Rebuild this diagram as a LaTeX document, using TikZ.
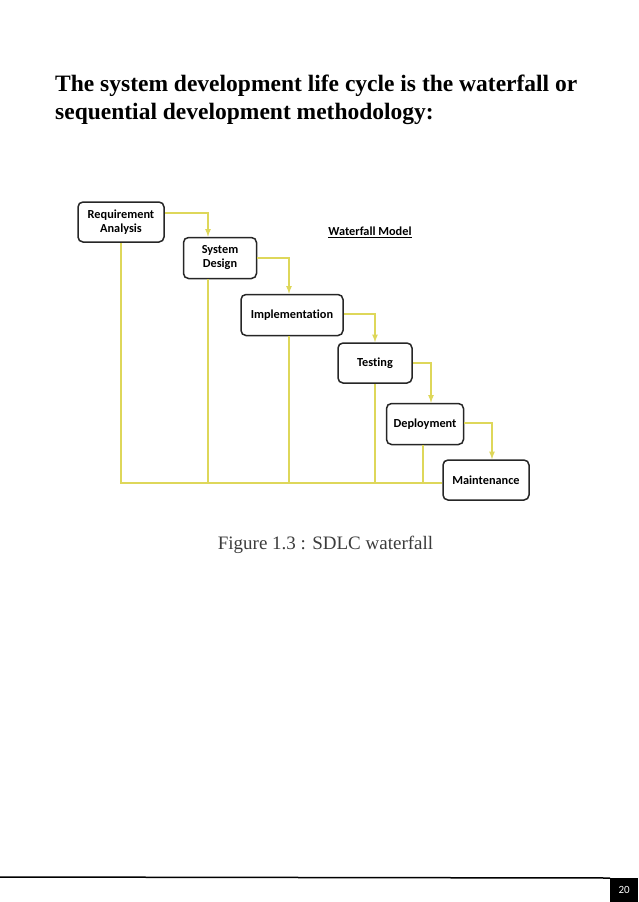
\documentclass[tikz,border=0pt]{standalone}
\usepackage{fontspec}
\setmainfont{Liberation Serif}
\newfontfamily\boxfont[Ligatures=NoCommon]{Carlito}
\usepackage{xcolor}
\usepackage{tikz}
\usetikzlibrary{arrows}
\definecolor{flowyellow}{RGB}{222,215,90}
\definecolor{captiongray}{RGB}{60,60,60}
\tikzset{
    phase/.style={
      draw=black!85, %box outline
      line width=1.5pt,
      rounded corners=5pt,
      fill=white,
      minimum height=40pt,
      align=center,
      font=\boxfont\bfseries\fontsize{12.3}{14}\selectfont,
    },
    flow/.style={
      ->, %arrow type
      >=latex, %arrow head type
      draw=flowyellow,
      line width=1.6pt,
    },
    feedback/.style={
      draw=flowyellow,
      line width=1.6pt,
    }
  }

\begin{document}
\begin{tikzpicture}[x=1pt, y=-1pt]
          \useasboundingbox (0,0) rectangle (638,902);

          % heading and caption
          \node[anchor=base west, inner sep=0pt, font=\bfseries\fontsize{23.5}{28}\selectfont] (title1) at (55,91) {The system development life cycle is the waterfall or};
          \node[anchor=base west, inner sep=0pt, font=\bfseries\fontsize{23.5}{28}\selectfont] (title2) at (55,119) {sequential development methodology:};
          \node[anchor=base, inner sep=0pt, text=captiongray, font=\fontsize{19}{22}\selectfont] (caption) at (325.5,549) {Figure 1.3 : SDLC waterfall};

          % phases
          \node[phase, minimum width=86pt] (req) at (121,222) {Requirement\\Analysis};
          \node[phase, minimum width=73pt, minimum height=41pt] (design) at (220,258) {System\\Design};
          \node[phase, minimum width=102pt, minimum height=41pt] (impl) at (292,315) {Implementation};
          \node[phase, minimum width=74pt] (test) at (375,363) {Testing};
          \node[phase, minimum width=77pt, minimum height=41pt] (deploy) at (425,424) {Deployment};
          \node[phase, minimum width=86pt] (maint) at (486,480) {Maintenance};
          \node[font=\boxfont\bfseries\fontsize{12.3}{14}\selectfont] (model) at (370,232) {\underline{Waterfall\ Model}};
          \coordinate (base) at (0,483);

          % steps down the cascade
          \path
          ([yshift=9pt]req.east) edge [flow, to path={-| (\tikztotarget)}] ([xshift=-12pt]design.north)
          (design.east) edge [flow, to path={-| (\tikztotarget)}] ([xshift=-3pt]impl.north)
          ([yshift=1pt]impl.east) edge [flow, to path={-| (\tikztotarget)}] (test.north)
          (test.east) edge [flow, to path={-| (\tikztotarget)}] ([xshift=6pt]deploy.north)
          ([yshift=1pt]deploy.east) edge [flow, to path={-| (\tikztotarget)}] ([xshift=6pt]maint.north);

          % lines back to the start
          \draw[feedback] (req.south) |- (maint.west |- base);
          \draw[feedback] ([xshift=-12pt]design.south) -- ([xshift=-12pt]design.south |- base);
          \draw[feedback] ([xshift=-3pt]impl.south) -- ([xshift=-3pt]impl.south |- base);
          \draw[feedback] (test.south) -- (test.south |- base);
          \draw[feedback] ([xshift=-2pt]deploy.south) -- ([xshift=-2pt]deploy.south |- base);

          % page footer
          \coordinate (rulestart) at (0,877);
          \node[fill=black, text=white, minimum width=28pt, minimum height=24pt, inner sep=0pt, anchor=north west, font=\boxfont\fontsize{11}{13}\selectfont] (pagenum) at (610,878) {20};
          \draw[line width=1.5pt] (rulestart) -- (pagenum.north west);
        \end{tikzpicture}
\end{document}
